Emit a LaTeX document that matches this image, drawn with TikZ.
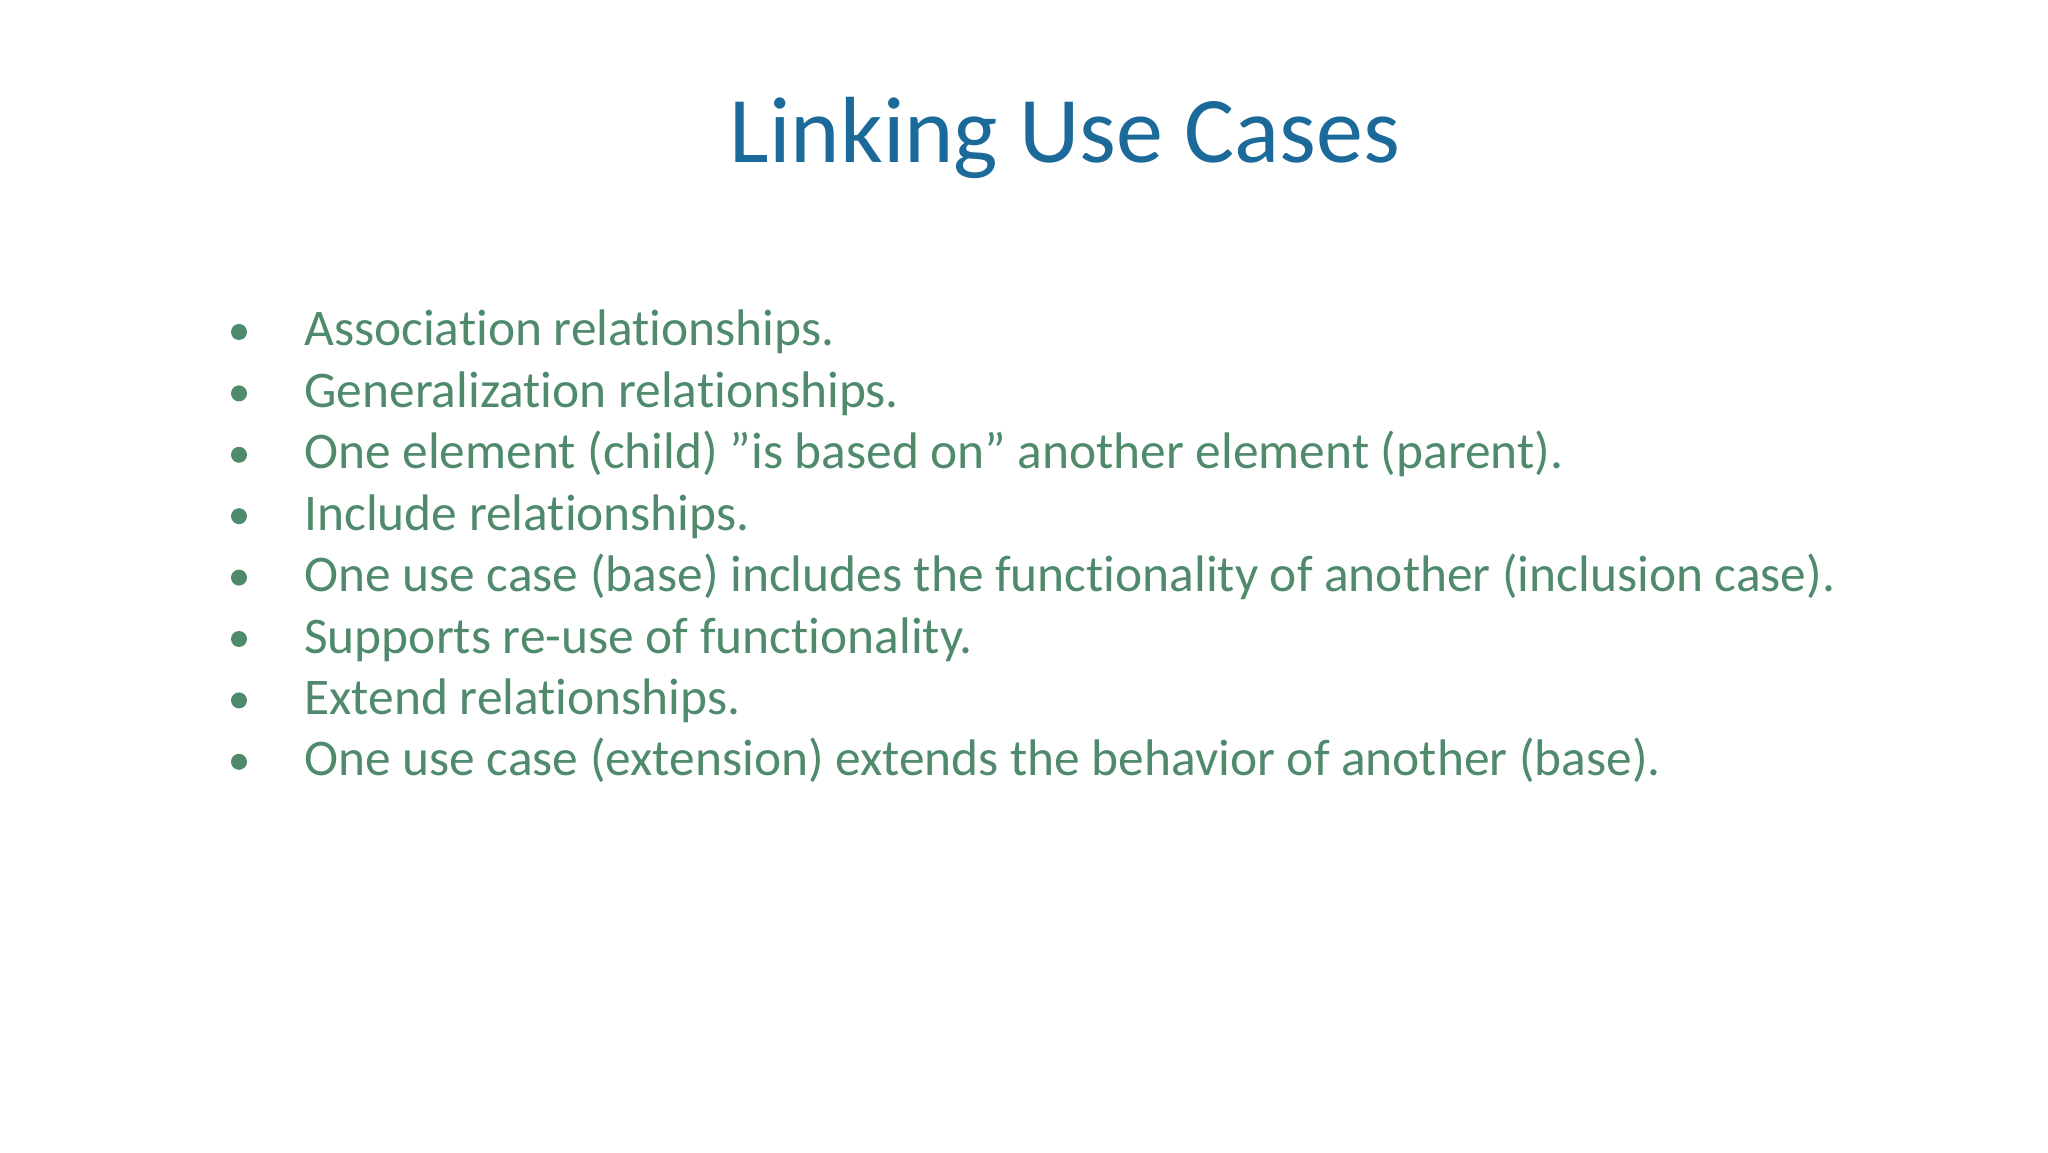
\documentclass[tikz,border=0pt]{standalone}
\usepackage{fontspec}
\setmainfont[Ligatures={NoCommon}]{Carlito}
\definecolor{titlec}{HTML}{1C6A9A}
\definecolor{bodyc}{HTML}{4F8A6C}
\begin{document}
\begin{tikzpicture}[x=0.5pt,y=0.5pt,
  title/.style={font=\fontsize{47}{56}\selectfont,text=titlec,anchor=base,inner sep=0},
  item/.style={font=\fontsize{25.7}{31}\selectfont,text=bodyc,anchor=base west,inner sep=0},
  dot/.style={circle,fill=bodyc,minimum size=8pt,inner sep=0}]
\fill[white] (0,0) rectangle (2048,1152);
\node[title] (t) at (1065,989) {Linking Use Cases};
\foreach \i/\txt in {0/{Association relationships.},1/{Generalization relationships.},2/{One element (child) \symbol{34}is based on\symbol{34} another element (parent).},3/{Include relationships.},4/{One use case (base) includes the functionality of another (inclusion case).},5/{Supports re-use of functionality.},6/{Extend relationships.},7/{One use case (extension) extends the behavior of another (base).}}{
  \node[item] (l\i) at (304,{806-61.4*\i}) {\txt};
  \node[dot] (b\i) at (239,{806-61.4*\i+14}) {};
}
\end{tikzpicture}
\end{document}
